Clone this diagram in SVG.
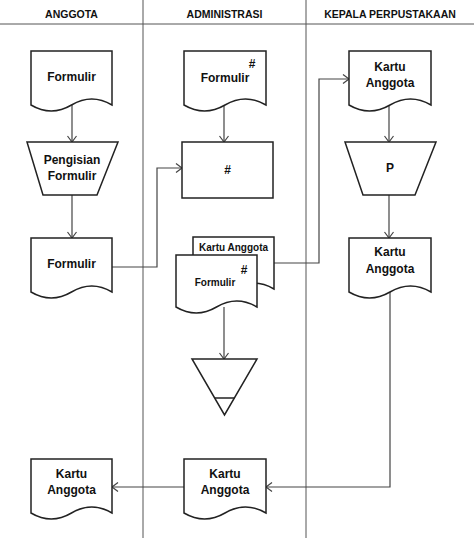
<svg xmlns="http://www.w3.org/2000/svg" width="474" height="538" viewBox="0 0 474 538">
<defs>
<style>
.lane{stroke:#555;stroke-width:1;fill:none}
.shape{fill:#fff;stroke:#222;stroke-width:1.5}
.conn{fill:none;stroke:#444;stroke-width:1.2}
.t{font-family:"Liberation Sans",Arial,sans-serif;font-weight:bold;font-size:12px;fill:#111;text-anchor:middle}
.h{font-size:10.5px}
.s{font-size:10px}
</style>
<marker id="arr" markerUnits="userSpaceOnUse" markerWidth="12" markerHeight="12" viewBox="-7 -6 8 12" refX="0" refY="0" orient="auto">
<path d="M-6,-4.5 L0,0 L-6,4.5" fill="none" stroke="#444" stroke-width="1.2"/>
</marker>
</defs>
<rect width="474" height="538" fill="#fff"/>
<g id="lanes">
<line class="lane" x1="0" y1="24" x2="474" y2="24"/>
<line class="lane" x1="143" y1="0" x2="143" y2="538"/>
<line class="lane" x1="306" y1="0" x2="306" y2="538"/>
<text class="t h" x="71.5" y="18">ANGGOTA</text>
<text class="t h" x="224.5" y="18">ADMINISTRASI</text>
<text class="t h" x="390" y="18">KEPALA PERPUSTAKAAN</text>
</g>
<g id="connectors">
<path class="conn" d="M72,105 V142" marker-end="url(#arr)"/>
<path class="conn" d="M72,195 V238" marker-end="url(#arr)"/>
<path class="conn" d="M112,267 H157 V168 H182" marker-end="url(#arr)"/>
<path class="conn" d="M224,105 V142" marker-end="url(#arr)"/>
<path class="conn" d="M274,263 H319 V79 H349" marker-end="url(#arr)"/>
<path class="conn" d="M224,307 V359" marker-end="url(#arr)"/>
<path class="conn" d="M389,105 V142" marker-end="url(#arr)"/>
<path class="conn" d="M389,195 V238" marker-end="url(#arr)"/>
<path class="conn" d="M390,290 V487 H266" marker-end="url(#arr)"/>
<path class="conn" d="M184,487 H112" marker-end="url(#arr)"/>
</g>
<g id="a-formulir1">
<path class="shape" d="M31,51 H112 V105 Q91.75,93 71.5,105 Q51.25,117 31,105 Z"/>
<text class="t" x="71.5" y="81">Formulir</text>
</g>
<g id="a-pengisian">
<path class="shape" d="M27,142 H118 L97,195 H43 Z"/>
<text class="t" x="72" y="164">Pengisian</text>
<text class="t" x="72" y="180">Formulir</text>
</g>
<g id="a-formulir2">
<path class="shape" d="M31,238 H112 V292 Q91.75,280 71.5,292 Q51.25,304 31,292 Z"/>
<text class="t" x="71.5" y="268">Formulir</text>
</g>
<g id="a-kartu">
<path class="shape" d="M31,459 H112 V513 Q91.75,501 71.5,513 Q51.25,525 31,513 Z"/>
<text class="t" x="71.5" y="478">Kartu</text>
<text class="t" x="71.5" y="494">Anggota</text>
</g>
<g id="ad-formulir">
<path class="shape" d="M184,51 H266 V105 Q245.5,93 225,105 Q204.5,117 184,105 Z"/>
<text class="t" x="252" y="68">#</text>
<text class="t" x="225" y="82">Formulir</text>
</g>
<g id="ad-proses">
<rect class="shape" x="182" y="142" width="91" height="56"/>
<text class="t" x="227.5" y="174">#</text>
</g>
<g id="ad-dokumen-ganda">
<path class="shape" d="M193,237 H274 V289 Q253.75,277 233.5,289 Q213.25,301 193,289 Z"/>
<text class="t s" x="233.5" y="251">Kartu Anggota</text>
<path class="shape" d="M176,255 H257 V307 Q236.75,295 216.5,307 Q196.25,319 176,307 Z"/>
<text class="t" x="244" y="274">#</text>
<text class="t s" x="215" y="286">Formulir</text>
</g>
<g id="ad-arsip">
<path class="shape" d="M192,359 H257 L224.5,415 Z"/>
<line class="shape" x1="215" y1="398" x2="234.5" y2="398"/>
</g>
<g id="ad-kartu">
<path class="shape" d="M184,459 H266 V513 Q245.5,501 225,513 Q204.5,525 184,513 Z"/>
<text class="t" x="225" y="478">Kartu</text>
<text class="t" x="225" y="494">Anggota</text>
</g>
<g id="k-kartu1">
<path class="shape" d="M349,51 H431 V105 Q410.5,93 390,105 Q369.5,117 349,105 Z"/>
<text class="t" x="390" y="71">Kartu</text>
<text class="t" x="390" y="87">Anggota</text>
</g>
<g id="k-proses">
<path class="shape" d="M345,142 H436 L415,195 H363 Z"/>
<text class="t" x="390" y="172">P</text>
</g>
<g id="k-kartu2">
<path class="shape" d="M349,238 H431 V292 Q410.5,280 390,292 Q369.5,304 349,292 Z"/>
<text class="t" x="390" y="256">Kartu</text>
<text class="t" x="390" y="273">Anggota</text>
</g>
</svg>
